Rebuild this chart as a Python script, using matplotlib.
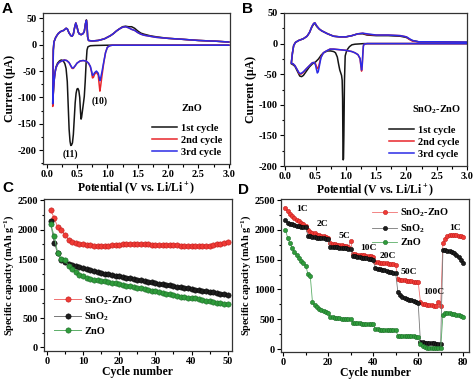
import numpy as np
import matplotlib
matplotlib.use("Agg")
import matplotlib.pyplot as plt
from matplotlib.ticker import MultipleLocator

plt.rcParams['font.family'] = ['Liberation Serif', 'DejaVu Serif']
plt.rcParams['font.weight'] = 'bold'
plt.rcParams['axes.unicode_minus'] = False
plt.rcParams['mathtext.fontset'] = 'custom'
plt.rcParams['mathtext.rm'] = 'Liberation Serif:bold'
plt.rcParams['mathtext.bf'] = 'Liberation Serif:bold'
plt.rcParams['mathtext.it'] = 'Liberation Serif:bold:italic'

# ---------------- Panel A: ZnO CV (potential V, current uA) ----------------
znoA_c1_v = [3.0, 2.0, 1.0, 0.8, 0.72, 0.68, 0.665, 0.65, 0.635, 0.62, 0.605, 0.59, 0.575, 0.567, 0.558, 0.545, 0.53, 0.515, 0.5, 0.485, 0.47, 0.455, 0.44, 0.425, 0.41, 0.398, 0.385, 0.37, 0.355, 0.34, 0.32, 0.3, 0.27, 0.24, 0.21, 0.18, 0.155, 0.135, 0.12, 0.108, 0.1,
             0.105, 0.11, 0.12, 0.15, 0.19, 0.22, 0.25, 0.28, 0.32, 0.34, 0.37, 0.4, 0.42, 0.44, 0.46, 0.48, 0.5, 0.52, 0.54, 0.57, 0.6, 0.62, 0.64, 0.655, 0.665, 0.675, 0.69, 0.75, 0.85, 0.95, 1.0, 1.05, 1.1, 1.15, 1.2, 1.25, 1.3, 1.35, 1.4, 1.45, 1.5, 1.55, 1.6, 1.7, 1.8, 2.0, 2.2, 2.5, 2.8, 3.0]
znoA_c1_i = [-1, -1, -1, -1.5, -2, -4, -10, -35, -70, -98, -112, -125, -138, -141, -128, -100, -87, -83, -84, -92, -110, -140, -170, -186, -190, -191, -183, -160, -115, -70, -45, -36, -30, -29, -31, -35, -42, -55, -72, -95, -112,
             -60, -10, 5, 14, 21, 24, 26, 27, 31, 30, 22, 17, 16, 20, 32, 41, 34, 24, 20, 19, 21, 25, 40, 47, 38, 15, 8, 7, 8, 11, 14, 17, 21, 26, 30, 34, 35, 34, 34, 31, 26, 22, 20, 17, 15, 12, 10.5, 8, 6.5, 5]

znoA_c2_v = [3.0, 2.0, 1.2, 1.08, 1.04, 1.0, 0.97, 0.94, 0.91, 0.89, 0.877, 0.865, 0.85, 0.82, 0.79, 0.77, 0.755, 0.74, 0.72, 0.69, 0.65, 0.6, 0.55, 0.5, 0.47, 0.44, 0.42, 0.4, 0.37, 0.33, 0.29, 0.25, 0.21, 0.18, 0.15, 0.13, 0.115, 0.1,
             0.105, 0.11, 0.12, 0.15, 0.19, 0.22, 0.25, 0.28, 0.32, 0.34, 0.37, 0.4, 0.42, 0.44, 0.46, 0.48, 0.5, 0.52, 0.54, 0.57, 0.6, 0.62, 0.64, 0.655, 0.665, 0.675, 0.69, 0.75, 0.85, 0.95, 1.0, 1.05, 1.1, 1.15, 1.2, 1.25, 1.3, 1.35, 1.4, 1.45, 1.5, 1.55, 1.6, 1.7, 1.8, 2.0, 2.2, 2.5, 2.8, 3.0]
znoA_c2_i = [-1, -1, -1, -1, -2, -5, -15, -35, -60, -78, -88, -75, -58, -52, -56, -62, -63, -52, -42, -35, -31, -30, -31, -35, -40, -45, -45, -41, -34, -30, -29, -31, -33, -37, -45, -60, -80, -117,
             -60, -10, 5, 14, 21, 24, 26, 27, 31, 30, 22, 17, 16, 20, 32, 41, 34, 24, 20, 19, 21, 25, 40, 46, 38, 15, 8, 7, 8, 11, 14, 17, 21, 26, 30, 33, 34, 32, 29, 27, 23, 20, 18, 16, 14, 12, 10.5, 8, 6.5, 5]

znoA_c3_v = znoA_c2_v
znoA_c3_i = [-1, -1, -1, -1, -2, -5, -15, -33, -52, -63, -68, -62, -54, -50, -53, -57, -58, -50, -41, -35, -31, -30, -31, -35, -40, -44, -44, -40, -34, -30, -29, -31, -33, -37, -45, -60, -80, -112,
             -60, -10, 5, 14, 21, 24, 26, 27, 31, 30, 22, 17, 16, 20, 32, 41, 34, 24, 20, 19, 21, 25, 40, 46, 38, 15, 8, 7, 8, 11, 14, 17, 21, 26, 30, 33, 34, 32, 29, 27, 23, 20, 18, 16, 14, 12, 10.5, 8, 6.5, 5]

# ---------------- Panel B: SnO2-ZnO CV ----------------
snB_c1_v = [3.0, 2.0, 1.3, 1.15, 1.1, 1.06, 1.03, 1.01, 0.99, 0.978, 0.968, 0.962, 0.957, 0.952, 0.947, 0.94, 0.93, 0.92, 0.9, 0.88, 0.86, 0.83, 0.8, 0.75, 0.7, 0.65, 0.6, 0.55, 0.5, 0.45, 0.4, 0.35, 0.3, 0.27, 0.24, 0.2, 0.16, 0.12, 0.1,
            0.12, 0.14, 0.17, 0.22, 0.3, 0.36, 0.4, 0.44, 0.47, 0.49, 0.52, 0.56, 0.6, 0.7, 0.8, 0.9, 1.0, 1.1, 1.2, 1.28, 1.35, 1.5, 1.7, 1.9, 2.0, 2.05, 2.1, 2.2, 2.5, 3.0]
snB_c1_i = [0, 0, 0, -1, -2, -5, -9, -13, -20, -60, -150, -188, -190, -160, -90, -60, -52, -49, -43, -33, -22, -15, -13, -12, -12, -14, -18, -25, -30, -33, -38, -45, -52, -54, -53, -45, -37, -34, -33,
            -15, -3, 2, 5, 8, 12, 18, 27, 32, 33, 28, 24, 21, 16, 12, 11, 11, 13, 16, 16, 14, 13, 13, 12, 10, 7, 5, 3, 3, 2]

snB_c2_v = [3.0, 2.0, 1.35, 1.3, 1.29, 1.28, 1.27, 1.26, 1.25, 1.235, 1.2, 1.15, 1.1, 1.05, 1.0, 0.9, 0.8, 0.74, 0.68, 0.63, 0.59, 0.565, 0.545, 0.53, 0.515, 0.5, 0.48, 0.46, 0.44, 0.41, 0.38, 0.34, 0.3, 0.26, 0.23, 0.2, 0.16, 0.13, 0.1,
            0.12, 0.14, 0.17, 0.22, 0.3, 0.36, 0.4, 0.44, 0.47, 0.49, 0.52, 0.56, 0.6, 0.7, 0.8, 0.9, 1.0, 1.1, 1.2, 1.28, 1.35, 1.5, 1.7, 1.9, 2.0, 2.05, 2.1, 2.2, 2.5, 3.0]
snB_c2_i = [0, 0, 0, -1, -4, -18, -38, -45, -38, -25, -18, -15, -13, -12, -11, -10, -9, -9, -12, -15, -22, -32, -40, -41, -37, -33, -31, -31, -32, -35, -38, -42, -47, -50, -49, -43, -36, -33, -32,
            -15, -3, 2, 5, 8, 12, 18, 28, 33, 34, 29, 24, 21, 16, 12, 11, 11, 13, 16, 17, 15, 14, 14, 13, 11, 7, 4, 3, 3, 2]
snB_c3_v = snB_c2_v
snB_c3_i = [0, 0, 0, -1, -4, -18, -36, -43, -36, -24, -18, -15, -13, -12, -11, -10, -9, -9, -12, -15, -23, -36, -46, -48, -42, -35, -31, -31, -32, -35, -38, -42, -46, -49, -48, -43, -36, -33, -32,
            -15, -3, 2, 5, 8, 12, 18, 28, 33, 34, 29, 24, 21, 16, 12, 11, 11, 13, 16, 17, 16, 14, 14, 13, 11, 8, 5, 3, 3, 2.5]

# ---------------- Panel C: cycling ----------------
cycles_C = list(range(1, 51))
capC_snzn = [2340, 2200, 2040, 1990, 1910, 1830, 1790, 1770, 1755, 1750, 1740, 1735, 1725, 1715, 1715, 1720, 1730, 1735, 1740, 1745,
             1750, 1752, 1755, 1755, 1752, 1750, 1750, 1748, 1747, 1745, 1745, 1742, 1740, 1738, 1735, 1732, 1730, 1727, 1725, 1720,
             1718, 1715, 1718, 1722, 1730, 1740, 1750, 1760, 1775, 1790]
capC_sno2 = [2140, 1780, 1600, 1480, 1450, 1425, 1405, 1385, 1365, 1345, 1330, 1315, 1300, 1285, 1270, 1255, 1245, 1232, 1220, 1208,
             1196, 1185, 1174, 1162, 1150, 1140, 1128, 1118, 1106, 1095, 1085, 1074, 1063, 1052, 1042, 1032, 1021, 1011, 1001, 991,
             982, 972, 962, 952, 943, 933, 923, 913, 903, 890]
capC_zno = [2090, 1900, 1600, 1510, 1480, 1380, 1330, 1280, 1225, 1210, 1180, 1165, 1150, 1140, 1130, 1120, 1110, 1100, 1090, 1075,
            1062, 1050, 1038, 1026, 1014, 1002, 990, 978, 965, 950, 938, 925, 912, 900, 888, 876, 865, 855, 848, 840,
            832, 820, 808, 795, 782, 770, 760, 752, 745, 735]

# ---------------- Panel D: rate ----------------
cycles_D = list(range(1, 81))
capD_snzn = [2360, 2310, 2270, 2240, 2200, 2170, 2140, 2110, 2090, 2070,
             1990, 1970, 1950, 1940, 1920, 1910, 1900, 1890, 1880, 1870,
             1780, 1770, 1760, 1750, 1745, 1740, 1735, 1730, 1720, 1820,
             1600, 1590, 1585, 1580, 1575, 1570, 1565, 1560, 1555, 1550,
             1460, 1455, 1450, 1445, 1440, 1435, 1430, 1425, 1420, 1415,
             1180, 1165, 1155, 1150, 1145, 1140, 1135, 1130, 1130, 1125,
             790, 760, 750, 745, 740, 735, 730, 725, 795, 715,
             1780, 1850, 1890, 1910, 1920, 1920, 1910, 1900, 1890, 1880]
capD_sno2 = [2170, 2110, 2100, 2090, 2080, 2070, 2060, 2050, 2045, 2040,
             1900, 1890, 1880, 1875, 1870, 1865, 1860, 1855, 1850, 1845,
             1720, 1715, 1710, 1705, 1700, 1700, 1695, 1690, 1685, 1680,
             1560, 1553, 1546, 1540, 1533, 1526, 1520, 1513, 1506, 1500,
             1360, 1350, 1340, 1330, 1320, 1310, 1300, 1290, 1280, 1270,
             950, 910, 880, 860, 845, 830, 815, 800, 790, 775,
             120, 110, 105, 100, 100, 95, 95, 90, 90, 88,
             1660, 1655, 1650, 1645, 1635, 1615, 1585, 1545, 1495, 1450]
capD_zno = [1998, 1860, 1775, 1690, 1636, 1580, 1525, 1480, 1440, 1400,
            1255, 1230, 785, 732, 698, 676, 654, 637, 620, 604,
            540, 530, 525, 520, 515, 512, 510, 505, 502, 500,
            440, 435, 432, 430, 428, 426, 424, 422, 420, 418,
            330, 328, 326, 325, 324, 323, 322, 321, 320, 318,
            220, 218, 216, 215, 214, 213, 212, 211, 210, 210,
            80, 55, 35, 25, 20, 15, 12, 10, 10, 10,
            570, 600, 605, 600, 590, 585, 575, 565, 555, 545]

rate_labels = ['1C', '2C', '5C', '10C', '20C', '50C', '100C', '1C']
rate_lab_x = [8.4, 17.2, 27.1, 37.9, 46.7, 56.0, 67.1, 76.6]
rate_lab_y = [2345, 2093, 1903, 1702, 1563, 1290, 955, 2027]

cv_legend = ['1st cycle', '2nd cycle', '3rd cycle']
cap_legend = ['SnO$_2$-ZnO', 'SnO$_2$', 'ZnO']

BLACK = '#151515'
RED = '#e8262b'
BLUE = '#2b2be6'
RED_M = '#ef3b36'
BLACK_M = '#1e1e1e'
GREEN_M = '#2f9c3b'

TICK_FS = 7.5
LAB_FS = 8.5

fig = plt.figure(figsize=(4.74, 3.79), dpi=100)
W, H = 474.0, 379.0


def add_ax(l, r, t, b):
    return fig.add_axes([l / W, 1 - b / H, (r - l) / W, (b - t) / H])


def style(ax):
    ax.tick_params(axis='both', which='both', direction='out', labelsize=TICK_FS,
                   top=False, right=False, width=0.8, pad=1.5)
    ax.tick_params(which='major', length=3)
    ax.tick_params(which='minor', length=1.8)
    for s in ax.spines.values():
        s.set_linewidth(0.9)
        s.set_color('#333333')
    for lab in ax.get_xticklabels() + ax.get_yticklabels():
        lab.set_fontweight('bold')


# Panel A
axA = add_ax(43, 230, 13, 164)
axA.plot(znoA_c1_v, znoA_c1_i, color=BLACK, lw=1.1, label=cv_legend[0])
axA.plot(znoA_c2_v, znoA_c2_i, color=RED, lw=1.1, label=cv_legend[1])
axA.plot(znoA_c3_v, znoA_c3_i, color=BLUE, lw=1.1, label=cv_legend[2])
axA.set_xlim(-0.06, 3.02)
axA.set_ylim(-226, 60)
axA.xaxis.set_minor_locator(MultipleLocator(0.25))
axA.yaxis.set_major_locator(MultipleLocator(50))
axA.yaxis.set_minor_locator(MultipleLocator(25))
axA.set_xticks([0, 0.5, 1.0, 1.5, 2.0, 2.5, 3.0])
axA.set_xticklabels(['0.0', '0.5', '1.0', '1.5', '2.0', '2.5', '3.0'])
axA.set_ylabel('Current (μA)', fontsize=LAB_FS, fontweight='bold', labelpad=1)
axA.set_xlabel('Potential (V vs. Li/Li$^+$)', fontsize=LAB_FS, fontweight='bold', labelpad=1)
axA.text(0.39, -207, '(11)', fontsize=7, fontweight='bold', ha='center', va='center')
axA.text(0.88, -107, '(10)', fontsize=7, fontweight='bold', ha='center', va='center')
axA.text(2.4, -121, 'ZnO', fontsize=7.5, fontweight='bold', ha='center', va='center')
axA.legend(loc='lower right', bbox_to_anchor=(1.0, 0.0), frameon=False, fontsize=7.5,
           handlelength=2.4, handletextpad=0.4, labelspacing=0.25, borderaxespad=0.3)
style(axA)

# Panel B
axB = add_ax(284, 467, 13, 166)
axB.plot(snB_c1_v, snB_c1_i, color=BLACK, lw=1.1, label=cv_legend[0])
axB.plot(snB_c2_v, snB_c2_i, color=RED, lw=1.1, label=cv_legend[1])
axB.plot(snB_c3_v, snB_c3_i, color=BLUE, lw=1.1, label=cv_legend[2])
axB.set_xlim(-0.02, 3.0)
axB.set_ylim(-200, 50)
axB.set_xticks([0, 0.5, 1.0, 1.5, 2.0, 2.5, 3.0])
axB.set_xticklabels(['0.0', '0.5', '1.0', '1.5', '2.0', '2.5', '3.0'])
axB.xaxis.set_minor_locator(MultipleLocator(0.25))
axB.yaxis.set_major_locator(MultipleLocator(50))
axB.yaxis.set_minor_locator(MultipleLocator(25))
axB.set_ylabel('Current (μA)', fontsize=LAB_FS, fontweight='bold', labelpad=1)
axB.set_xlabel('Potential (V vs. Li/Li$^+$)', fontsize=LAB_FS, fontweight='bold', labelpad=1)
axB.text(2.5, -108, 'SnO$_2$-ZnO', fontsize=7.5, fontweight='bold', ha='center', va='center')
axB.legend(loc='lower right', bbox_to_anchor=(1.0, 0.0), frameon=False, fontsize=7.5,
           handlelength=2.4, handletextpad=0.4, labelspacing=0.25, borderaxespad=0.3)
style(axB)

# Panel C
axC = add_ax(44, 232, 199, 351)
mk = dict(marker='o', markersize=3.8, lw=0.7, markeredgewidth=0.4)
axC.plot(cycles_C, capC_snzn, color='#f07070', markerfacecolor=RED_M, markeredgecolor='#c01818', label=cap_legend[0], **mk)
axC.plot(cycles_C, capC_sno2, color='#777777', markerfacecolor=BLACK_M, markeredgecolor='#000000', label=cap_legend[1], **mk)
axC.plot(cycles_C, capC_zno, color='#5cae68', markerfacecolor=GREEN_M, markeredgecolor='#1c6a28', label=cap_legend[2], **mk)
axC.set_xlim(-0.8, 51.2)
axC.set_ylim(-60, 2520)
axC.xaxis.set_major_locator(MultipleLocator(10))
axC.xaxis.set_minor_locator(MultipleLocator(5))
axC.yaxis.set_major_locator(MultipleLocator(500))
axC.yaxis.set_minor_locator(MultipleLocator(250))
axC.set_xlabel('Cycle number', fontsize=LAB_FS, fontweight='bold', labelpad=0)
axC.set_ylabel('Specific capacity (mAh g$^{-1}$)', fontsize=7.4, fontweight='bold', labelpad=1)
axC.legend(loc='lower left', bbox_to_anchor=(0.02, 0.06), frameon=False, fontsize=7.5,
           handlelength=2.6, handletextpad=0.3, labelspacing=0.35, borderaxespad=0.2)
style(axC)

# Panel D
axD = add_ax(281, 469, 199, 352)
mkD = dict(marker='o', markersize=3.1, lw=0.6, markeredgewidth=0.35)
axD.plot(cycles_D, capD_snzn, color='#f07070', markerfacecolor=RED_M, markeredgecolor='#c01818', label=cap_legend[0], **mkD)
axD.plot(cycles_D, capD_sno2, color='#777777', markerfacecolor=BLACK_M, markeredgecolor='#000000', label=cap_legend[1], **mkD)
axD.plot(cycles_D, capD_zno, color='#5cae68', markerfacecolor=GREEN_M, markeredgecolor='#1c6a28', label=cap_legend[2], **mkD)
axD.set_xlim(-1.0, 82.6)
axD.set_ylim(-50, 2517)
axD.xaxis.set_major_locator(MultipleLocator(20))
axD.xaxis.set_minor_locator(MultipleLocator(10))
axD.yaxis.set_major_locator(MultipleLocator(500))
axD.yaxis.set_minor_locator(MultipleLocator(250))
axD.set_xlabel('Cycle number', fontsize=LAB_FS, fontweight='bold', labelpad=0)
axD.set_ylabel('Specific capacity (mAh g$^{-1}$)', fontsize=7.4, fontweight='bold', labelpad=1)
for lab, x, y in zip(rate_labels, rate_lab_x, rate_lab_y):
    axD.text(x, y, lab, fontsize=6.8, fontweight='bold', ha='center', va='center')
axD.legend(loc='upper right', bbox_to_anchor=(0.93, 0.99), frameon=False, fontsize=7.5,
           handlelength=2.4, handletextpad=0.3, labelspacing=0.3, borderaxespad=0.2)
style(axD)

# panel letters
for txt, x, y in [('A', 2, 2), ('B', 242, 2), ('C', 2, 181), ('D', 238, 183)]:
    fig.text(x / W, 1 - y / H, txt, fontsize=11, fontweight='bold', ha='left', va='top',
             family=['Liberation Sans', 'DejaVu Sans'])

fig.savefig('out.png', dpi=100)
